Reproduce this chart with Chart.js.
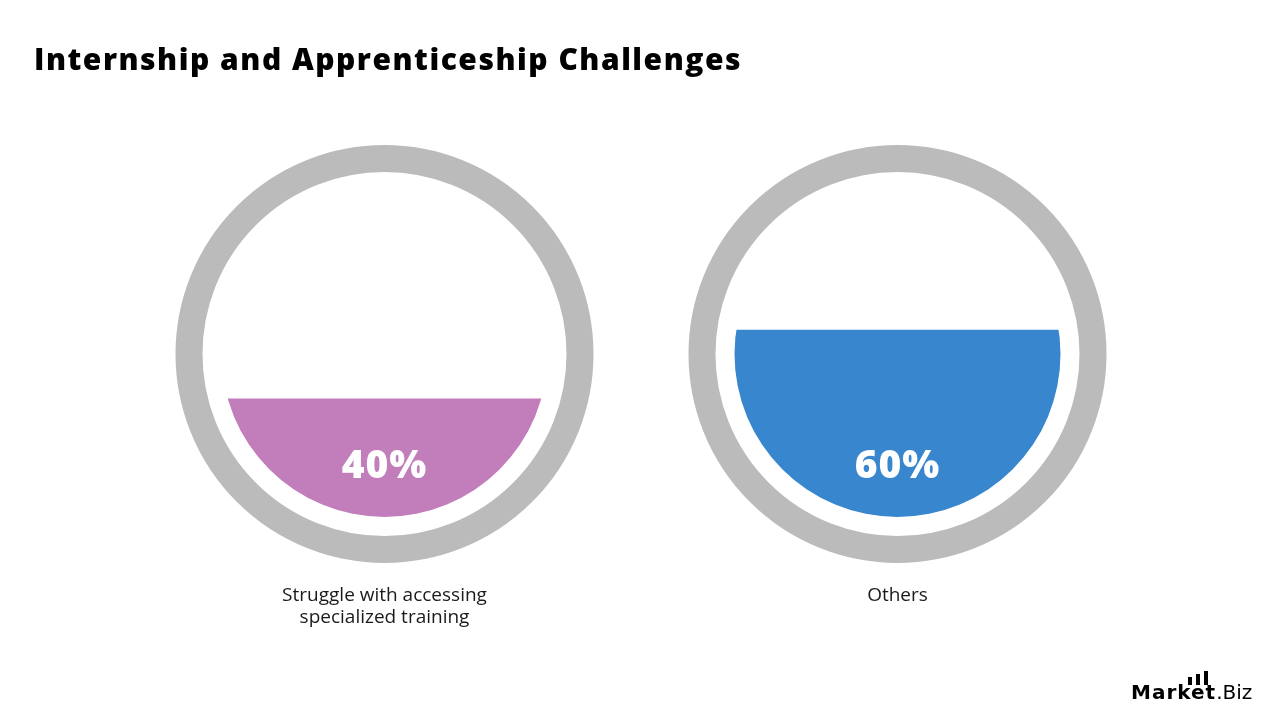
<!DOCTYPE html>
<html>
<head>
<meta charset="utf-8">
<script src="https://cdn.jsdelivr.net/npm/chart.js@4.4.0/dist/chart.umd.min.js"></script>
<style>
  html, body { margin: 0; padding: 0; background: #fff; width: 1280px; height: 720px; overflow: hidden; }
  #wrap { position: absolute; left: 0; top: 0; width: 1280px; height: 720px; }
  #title { position: absolute; left: 34px; top: 38px; font-family: 'Open Sans', sans-serif; font-size: 30px; font-weight: 800; color: #000; white-space: nowrap; line-height: normal; }
  #logo { position: absolute; left: 1131px; top: 680px; font-family: 'DejaVu Sans', sans-serif; font-size: 20px; color: #000; white-space: nowrap; line-height: normal; }
  #logo b { font-weight: 700; letter-spacing: 1px; }
  .lb { position: absolute; background: #000; width: 4px; }
</style>
</head>
<body>
<div id="wrap"><canvas id="chart" width="1280" height="720"></canvas></div>
<div id="title">Internship and Apprenticeship Challenges</div>
<div id="logo"><b>Market</b>.Biz</div>
<div class="lb" style="left:1188px;top:677px;height:8px"></div>
<div class="lb" style="left:1196px;top:674px;height:11px"></div>
<div class="lb" style="left:1204px;top:671px;height:14px"></div>

<script>
document.addEventListener('DOMContentLoaded', function() {
    // data
    var categories = [['Struggle with accessing', 'specialized training'], 'Others'];
    var values = [40, 60];
    var fillColors = ['#c27dbb', '#3887ce'];

    var ringColor = '#bbbbbb';
    var ringCenterY = 354;   // vertical centre of the gauges
    var ringRadius = 195.5;  // middle of the grey ring
    var ringWidth = 27;
    var fillRadius = 163;    // inner liquid circle

    // fit the title to the reference width (Montserrat is not installed)
    var title = document.getElementById('title');
    var extra = 708 - title.getBoundingClientRect().width;
    title.style.letterSpacing = (extra / title.textContent.length) + 'px';

    // draws the grey rings, clips the bars into circles, then writes the percentages
    var liquidPlugin = {
        id: 'liquid',
        beforeDatasetsDraw: function(chart) {
            var ctx = chart.ctx;
            var bars = chart.getDatasetMeta(0).data;
            ctx.save();
            ctx.strokeStyle = ringColor;
            ctx.lineWidth = ringWidth;
            bars.forEach(function(bar) {
                ctx.beginPath();
                ctx.arc(bar.x, ringCenterY, ringRadius, 0, Math.PI * 2);
                ctx.stroke();
            });
            ctx.restore();

            ctx.save();
            ctx.beginPath();
            bars.forEach(function(bar) {
                ctx.moveTo(bar.x + fillRadius, ringCenterY);
                ctx.arc(bar.x, ringCenterY, fillRadius, 0, Math.PI * 2);
            });
            ctx.clip();
        },
        afterDatasetsDraw: function(chart) {
            var ctx = chart.ctx;
            ctx.restore();
            var bars = chart.getDatasetMeta(0).data;
            ctx.save();
            ctx.fillStyle = '#ffffff';
            ctx.font = '800 39px "Open Sans", sans-serif';
            ctx.letterSpacing = '1px';
            ctx.textAlign = 'center';
            ctx.textBaseline = 'middle';
            bars.forEach(function(bar, i) {
                ctx.fillText(values[i] + '%', bar.x, ringCenterY + 113);
            });
            ctx.restore();
        }
    };

    var ctx = document.getElementById('chart').getContext('2d');
    var gaugeChart = new Chart(ctx, {
        type: 'bar',
        data: {
            labels: categories,
            datasets: [{
                data: values,
                backgroundColor: fillColors,
                borderWidth: 0,
                barPercentage: 1,
                categoryPercentage: 1
            }]
        },
        plugins: [liquidPlugin],
        options: {
            responsive: false,
            animation: false,
            layout: {
                padding: { top: 193, left: 128, right: 126, bottom: 0 }
            },
            plugins: {
                legend: { display: false },
                tooltip: { enabled: false }
            },
            scales: {
                x: {
                    grid: { display: false, drawTicks: false },
                    border: { display: false },
                    ticks: {
                        padding: 49,
                        color: '#1a1a1a',
                        font: { family: 'Open Sans', size: 19, weight: '400', lineHeight: 1.16 }
                    },
                    afterFit: function(scale) { scale.height = 184; }
                },
                y: {
                    display: false,
                    min: 0,
                    max: 100
                }
            }
        }
    });
});
</script>
</body>
</html>
